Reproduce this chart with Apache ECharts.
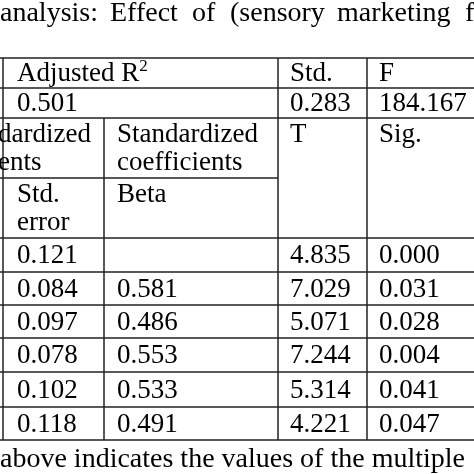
<!DOCTYPE html>
<html><head><meta charset="utf-8">
<script src="https://cdn.jsdelivr.net/npm/echarts@6/dist/echarts.min.js"></script>
<style>html,body{margin:0;background:#fff}#c{width:474px;height:474px}</style>
</head><body><div id="c"></div>
<script>
var titleWords = ['analysis:', 'Effect', 'of', '(sensory', 'marketing', 'f'];
var titleX = [0, 110, 192, 230, 337, 465];
var stdError = ['0.121', '0.084', '0.097', '0.078', '0.102', '0.118'];
var beta = ['', '0.581', '0.486', '0.553', '0.533', '0.491'];
var tValues = ['4.835', '7.029', '5.071', '7.244', '5.314', '4.221'];
var sig = ['0.000', '0.031', '0.028', '0.004', '0.041', '0.047'];
var modelSummary = ['0.501', '0.283', '184.167'];
var footer = 'above indicates the values of the multiple';

var chart = echarts.init(document.getElementById('c'));
var font = '"Liberation Serif", "Times New Roman", serif';
var els = [];
function txt(x, y, s, size, rich) {
    els.push({ type: 'text', x: x, y: y, style: { text: s, font: (size || 27) + 'px ' + font, fill: '#000', verticalAlign: 'middle', rich: rich } });
}
function line(x1, y1, x2, y2) {
    els.push({ type: 'line', shape: { x1: x1, y1: y1, x2: x2, y2: y2 }, style: { stroke: '#222', lineWidth: 1.5 } });
}
titleWords.forEach(function (w, i) { txt(titleX[i], 14, w, 28); });

// grid lines
var rowLines = [238, 272, 305, 338, 372, 407, 440];
[58, 88, 118].concat(rowLines).forEach(function (y) { line(0, y, 474, y); });
line(0, 178, 278, 178);
line(3, 58, 3, 440);
line(104, 118, 104, 440);
line(278, 58, 278, 440);
line(367, 58, 367, 440);

// header
txt(17, 74, 'Adjusted R{s|2}', 27, { s: { font: '17px ' + font, fill: '#000', verticalAlign: 'top', padding: [0, 0, 14, 0] } });
txt(290, 74, 'Std.');
txt(379, 74, 'F');
txt(17, 104, modelSummary[0]);
txt(290, 104, modelSummary[1]);
txt(379, 104, modelSummary[2]);
txt(-2, 135, 'dardized');
txt(-2, 163, 'ents');
txt(117, 135, 'Standardized');
txt(117, 163, 'coefficients');
txt(290, 135, 'T');
txt(379, 135, 'Sig.');
txt(17, 195, 'Std.');
txt(17, 223, 'error');
txt(117, 195, 'Beta');

for (var i = 0; i < stdError.length; i++) {
    var cy = (rowLines[i] + rowLines[i + 1]) / 2 + 1;
    txt(17, cy, stdError[i]);
    txt(117, cy, beta[i]);
    txt(290, cy, tValues[i]);
    txt(379, cy, sig[i]);
}
txt(0, 460, footer, 28);

chart.setOption({ backgroundColor: '#fff', graphic: { elements: els } });
</script></body></html>
